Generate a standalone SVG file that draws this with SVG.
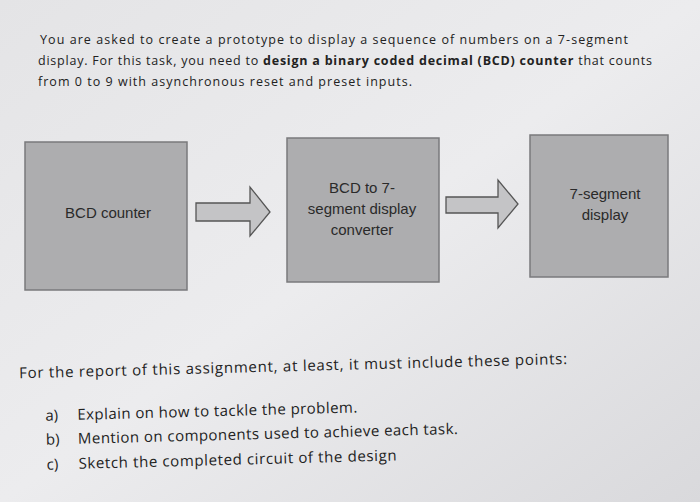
<svg xmlns="http://www.w3.org/2000/svg" width="700" height="502" viewBox="0 0 700 502">
<defs>
<linearGradient id="bg" x1="0" y1="0" x2="1" y2="1">
<stop offset="0" stop-color="#e4e4e6"/><stop offset="0.5" stop-color="#ececee"/><stop offset="1" stop-color="#d9d9dc"/>
</linearGradient>
<style>
.t{font-family:"Open Sans","Liberation Sans",sans-serif;font-size:12.5px;fill:#222}
.b{font-weight:bold}
.n{font-family:"Liberation Sans",Arial,sans-serif;font-size:15px;fill:#2a2a2a;text-anchor:middle}
.box{fill:#adadaf;stroke:#7a7a7c;stroke-width:1.5}
.arr{fill:#c4c4c6;stroke:#555;stroke-width:1.3}
.p{font-family:"Open Sans","Liberation Sans",sans-serif;font-size:15px;fill:#222}
</style>
</defs>
<rect width="700" height="502" fill="url(#bg)"/>
<g>
<text class="t" x="40" y="44" textLength="588" lengthAdjust="spacing">You are asked to create a prototype to display a sequence of numbers on a 7-segment</text>
<text class="t" x="38" y="65" textLength="614" lengthAdjust="spacing">display. For this task, you need to <tspan class="b">design a binary coded decimal (BCD) counter</tspan> that counts</text>
<text class="t" x="38" y="86" textLength="374" lengthAdjust="spacing">from 0 to 9 with asynchronous reset and preset inputs.</text>
</g>
<g id="bcd-counter">
<rect class="box" x="25" y="142" width="162" height="148"/>
<text class="n" x="108" y="218">BCD counter</text>
</g>
<g id="converter">
<rect class="box" x="287" y="138" width="152" height="144"/>
<text class="n" x="362" y="193">BCD to 7-</text>
<text class="n" x="362" y="214">segment display</text>
<text class="n" x="362" y="235">converter</text>
</g>
<g id="seven-seg">
<rect class="box" x="530" y="135" width="138" height="142"/>
<text class="n" x="605" y="199">7-segment</text>
<text class="n" x="605" y="220">display</text>
</g>
<g id="connectors">
<path class="arr" d="M196,203 H250 V187 L270,212 L250,236 V221 H196 Z"/>
<path class="arr" d="M446,197 H498 V180 L518,204 L498,228 V213 H446 Z"/>
</g>
<g transform="rotate(-1.5 300 400)">
<text class="p" x="20" y="371" textLength="548" lengthAdjust="spacing">For the report of this assignment, at least, it must include these points:</text>
<text class="p" x="45" y="414">a)</text>
<text class="p" x="77" y="414" textLength="280" lengthAdjust="spacing">Explain on how to tackle the problem.</text>
<text class="p" x="45" y="438">b)</text>
<text class="p" x="77" y="438" textLength="380" lengthAdjust="spacing">Mention on components used to achieve each task.</text>
<text class="p" x="45" y="463">c)</text>
<text class="p" x="77" y="463" textLength="318" lengthAdjust="spacing">Sketch the completed circuit of the design</text>
</g>
</svg>
